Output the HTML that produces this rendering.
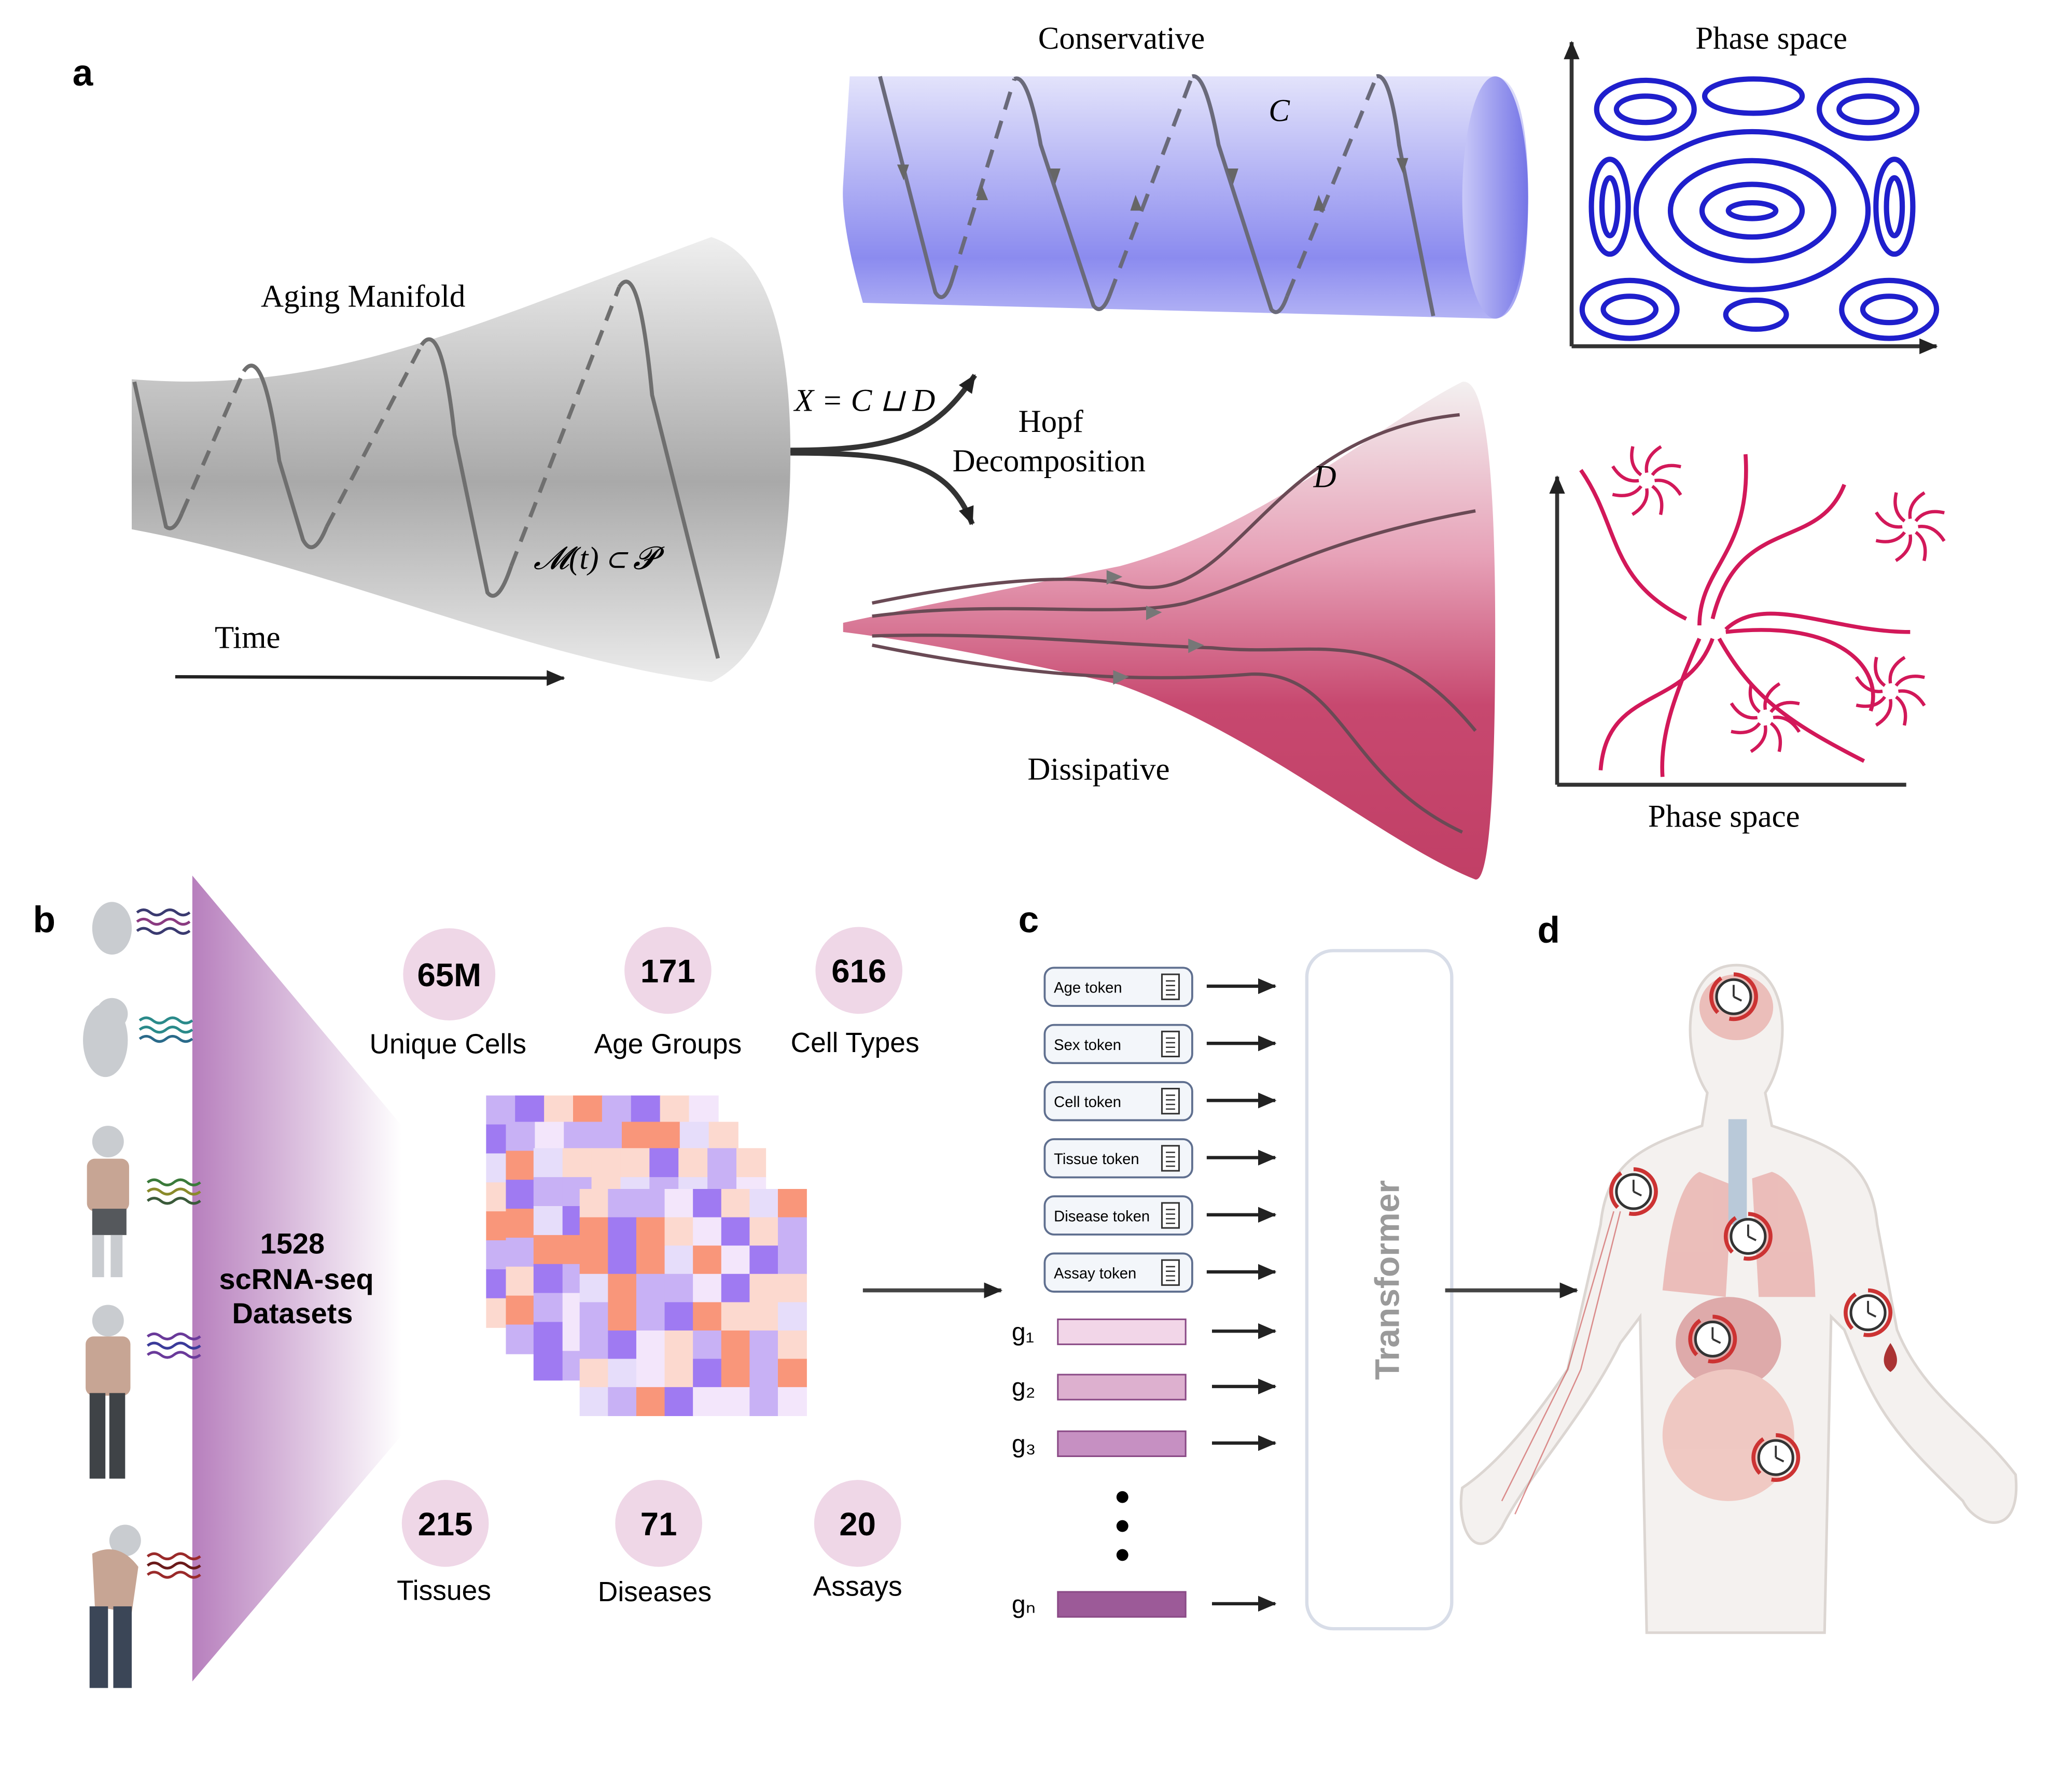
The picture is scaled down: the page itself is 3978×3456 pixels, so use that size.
<!DOCTYPE html>
<html><head><meta charset="utf-8">
<style>
html,body{margin:0;padding:0;background:#fff;}
svg{display:block;}
text{font-family:"Liberation Sans",sans-serif;}
.serif{font-family:"Liberation Serif",serif;}
</style></head>
<body>
<svg id="s" width="3978" height="3456" viewBox="0 0 1566 1361" preserveAspectRatio="none" xmlns="http://www.w3.org/2000/svg">
<defs>
<linearGradient id="grey" x1="0" y1="0" x2="0" y2="1">
<stop offset="0" stop-color="#efefef"/><stop offset="0.55" stop-color="#a9a9a9"/><stop offset="1" stop-color="#ececec"/></linearGradient>
<linearGradient id="blue" x1="0" y1="0" x2="0" y2="1">
<stop offset="0" stop-color="#e3e3fb"/><stop offset="0.75" stop-color="#8b8bef"/><stop offset="1" stop-color="#b3b3f5"/></linearGradient>
<linearGradient id="bluecap" x1="0" y1="0" x2="1" y2="0">
<stop offset="0" stop-color="#c8c8f8"/><stop offset="1" stop-color="#7474e6"/></linearGradient>
<linearGradient id="pink" x1="0" y1="0" x2="0" y2="1">
<stop offset="0" stop-color="#f3f0f0"/><stop offset="0.35" stop-color="#e7a2b8"/><stop offset="0.65" stop-color="#c7486f"/><stop offset="1" stop-color="#c13f66"/></linearGradient>
<linearGradient id="purp" x1="0" y1="0" x2="1" y2="0">
<stop offset="0" stop-color="#b77fbd"/><stop offset="1" stop-color="#ffffff"/></linearGradient>
<marker id="ag" markerWidth="10" markerHeight="10" refX="5" refY="5" orient="auto" markerUnits="userSpaceOnUse"><path d="M0,0 L10,5 L0,10 z" fill="#666"/></marker>
<marker id="ab" markerWidth="14" markerHeight="12" refX="13" refY="6" orient="auto" markerUnits="userSpaceOnUse"><path d="M0,0 L14,6 L0,12 z" fill="#222"/></marker>
</defs>

<text x="55" y="65" font-size="28" font-weight="bold">a</text>

<!-- Aging manifold -->
<path d="M100,288 C250,300 350,250 540,180 Q600,200 600,345 Q600,490 540,518 C400,500 250,430 100,402 Z" fill="url(#grey)"/>
<g fill="none" stroke="#6f6f6f" stroke-width="3">
<path d="M102,290 L126,400 Q132,405 138,390"/>
<path d="M185,282 Q200,260 212,350 L230,410 Q238,425 248,400"/>
<path d="M320,262 Q335,240 345,330 L370,450 Q378,460 388,430"/>
<path d="M470,218 Q485,195 495,300 L545,500"/>
<path d="M138,390 L185,282" stroke-dasharray="12,8" marker-mid="url(#ag)"/>
<path d="M248,400 L320,262" stroke-dasharray="12,8"/>
<path d="M388,430 L470,218" stroke-dasharray="12,8"/>
</g>
<text x="198" y="233" class="serif" font-size="24">Aging Manifold</text>
<text x="405" y="432" class="serif" font-size="24" font-style="italic">𝓜(t) ⊂ 𝓟</text>
<text x="163" y="492" class="serif" font-size="24">Time</text>
<line x1="133" y1="514" x2="428" y2="515" stroke="#222" stroke-width="2.5" marker-end="url(#ab)"/>

<path d="M600,342 C680,342 710,330 740,285" fill="none" stroke="#333" stroke-width="4" marker-end="url(#ab)"/>
<path d="M600,344 C680,344 720,350 738,398" fill="none" stroke="#333" stroke-width="4" marker-end="url(#ab)"/>
<text x="603" y="312" class="serif" font-size="24" font-style="italic">X = C ⊔ D</text>
<text x="773" y="328" class="serif" font-size="24">Hopf</text>
<text x="723" y="358" class="serif" font-size="24">Decomposition</text>

<!-- Conservative cylinder -->
<path d="M645,58 L1135,58 Q1160,60 1160,150 Q1160,240 1135,242 L655,230 Q638,170 640,140 Z" fill="url(#blue)"/>
<ellipse cx="1135" cy="150" rx="25" ry="92" fill="url(#bluecap)"/>
<g fill="none" stroke="#6a6a7a" stroke-width="3">
<path d="M668,58 L710,222 Q716,232 722,215"/>
<path d="M770,60 Q780,55 790,110 L830,232 Q836,240 842,225"/>
<path d="M905,58 Q915,55 925,110 L965,235 Q971,242 977,225"/>
<path d="M1045,58 Q1055,55 1062,110 L1088,240"/>
<path d="M722,215 L770,60" stroke-dasharray="14,9"/>
<path d="M842,225 L905,58" stroke-dasharray="14,9"/>
<path d="M977,225 L1045,58" stroke-dasharray="14,9"/>
</g>
<g fill="#666"><path d="M681,125 l9,0 l-4,12z"/><path d="M796,128 l9,0 l-4,12z"/><path d="M931,128 l9,0 l-4,12z"/><path d="M1060,120 l9,0 l-4,12z"/>
<path d="M741,152 l9,0 l-5,-12z"/><path d="M858,160 l9,0 l-5,-12z"/><path d="M997,160 l9,0 l-5,-12z"/></g>
<text x="788" y="37" class="serif" font-size="24">Conservative</text>
<text x="963" y="92" class="serif" font-size="24" font-style="italic">C</text>

<!-- Phase space top -->
<line x1="1193" y1="263" x2="1193" y2="32" stroke="#333" stroke-width="3" marker-end="url(#ab)"/>
<line x1="1193" y1="263" x2="1470" y2="263" stroke="#333" stroke-width="3" marker-end="url(#ab)"/>
<text x="1287" y="37" class="serif" font-size="24">Phase space</text>
<g fill="none" stroke="#1f1fcc" stroke-width="4">
<ellipse cx="1249" cy="83" rx="37" ry="22"/><ellipse cx="1249" cy="83" rx="22" ry="10"/>
<ellipse cx="1331" cy="73" rx="37" ry="13"/>
<ellipse cx="1418" cy="83" rx="37" ry="22"/><ellipse cx="1418" cy="83" rx="22" ry="10"/>
<ellipse cx="1330" cy="160" rx="88" ry="60"/><ellipse cx="1330" cy="160" rx="62" ry="38"/><ellipse cx="1330" cy="160" rx="38" ry="20"/><ellipse cx="1330" cy="160" rx="18" ry="6"/>
<ellipse cx="1222" cy="157" rx="14" ry="36"/><ellipse cx="1222" cy="157" rx="6" ry="22"/>
<ellipse cx="1438" cy="157" rx="14" ry="36"/><ellipse cx="1438" cy="157" rx="6" ry="22"/>
<ellipse cx="1237" cy="235" rx="36" ry="22"/><ellipse cx="1237" cy="235" rx="20" ry="10"/>
<ellipse cx="1333" cy="239" rx="23" ry="11"/>
<ellipse cx="1434" cy="235" rx="36" ry="22"/><ellipse cx="1434" cy="235" rx="20" ry="10"/>
</g>

<!-- Dissipative horn -->
<path d="M640,473 Q700,460 850,430 C960,400 1050,320 1110,290 Q1135,285 1135,480 Q1135,670 1120,668 C1050,640 960,560 850,520 Q720,490 640,480 Z" fill="url(#pink)"/>
<g fill="none" stroke="#6a4a55" stroke-width="2.5">
<path d="M662,458 C750,440 820,435 860,445 C940,460 960,330 1108,315"/>
<path d="M662,468 C760,455 850,470 900,458 C960,440 1000,410 1120,388"/>
<path d="M662,483 C760,480 850,490 920,492 C1000,500 1050,470 1120,555"/>
<path d="M662,490 C760,510 850,520 950,512 C1020,510 1020,590 1110,632"/>
</g>
<g fill="#777"><path d="M840,433 l12,5 l-12,6z"/><path d="M870,460 l12,5 l-12,6z"/><path d="M902,485 l12,5 l-12,6z"/><path d="M845,509 l12,5 l-12,6z"/></g>
<text x="997" y="370" class="serif" font-size="24" font-style="italic">D</text>
<text x="780" y="592" class="serif" font-size="24">Dissipative</text>

<!-- Phase space bottom -->
<line x1="1182" y1="596" x2="1182" y2="362" stroke="#333" stroke-width="3" marker-end="url(#ab)"/>
<line x1="1182" y1="596" x2="1447" y2="596" stroke="#333" stroke-width="3"/>
<text x="1251" y="628" class="serif" font-size="24">Phase space</text>
<g fill="none" stroke="#d21859" stroke-width="3">
<path d="M1200,357 C1230,400 1220,440 1280,470"/>
<path d="M1325,345 C1330,420 1290,430 1290,475"/>
<path d="M1400,368 C1380,420 1320,390 1300,470"/>
<path d="M1450,480 C1390,480 1340,450 1310,478"/>
<path d="M1300,485 C1280,540 1220,520 1215,585"/>
<path d="M1290,485 C1270,530 1260,560 1262,590"/>
<path d="M1305,485 C1330,530 1360,550 1415,578"/>
<path d="M1310,480 C1400,470 1430,510 1420,540"/>
</g>
<g id="stars" fill="none" stroke="#d21859" stroke-width="2.5"></g>

<!-- panel b -->
<text x="25" y="708" font-size="28" font-weight="bold">b</text>
<path d="M146,665 L305,855 L305,1090 L146,1277 Z" fill="url(#purp)"/>
<text x="222" y="952" font-size="22" font-weight="bold" text-anchor="middle">1528</text>
<text x="225" y="979" font-size="22" font-weight="bold" text-anchor="middle">scRNA-seq</text>
<text x="222" y="1005" font-size="22" font-weight="bold" text-anchor="middle">Datasets</text>
<g fill="#c9ccd0">
<ellipse cx="85" cy="705" rx="15" ry="20"/>
<ellipse cx="80" cy="790" rx="17" ry="28"/><circle cx="85" cy="770" r="12"/>
<circle cx="82" cy="867" r="12"/><rect x="66" y="880" width="32" height="40" rx="6" fill="#c7a594"/><rect x="70" y="918" width="26" height="20" fill="#55585c"/><rect x="70" y="938" width="9" height="32" fill="#c9ccd0"/><rect x="84" y="938" width="9" height="32" fill="#c9ccd0"/>
<circle cx="82" cy="1003" r="12"/><rect x="65" y="1015" width="34" height="45" rx="6" fill="#c7a594"/><rect x="68" y="1058" width="12" height="65" fill="#3f4347"/><rect x="83" y="1058" width="12" height="65" fill="#3f4347"/>
<circle cx="95" cy="1170" r="12"/><path d="M70,1180 Q90,1170 105,1190 L100,1225 L72,1220 Z" fill="#c7a594"/><rect x="68" y="1220" width="14" height="62" fill="#3b4657"/><rect x="86" y="1220" width="14" height="62" fill="#3b4657"/>
</g>
<g fill="none" stroke-width="2">
<path d="M104,693 q5,-4 10,0 t10,0 t10,0 t10,0" stroke="#3a3a70"/><path d="M104,700 q5,-4 10,0 t10,0 t10,0 t10,0" stroke="#8a3a80"/><path d="M104,707 q5,-4 10,0 t10,0 t10,0 t10,0" stroke="#3a3a70"/>
<path d="M106,775 q5,-4 10,0 t10,0 t10,0 t10,0" stroke="#2a8a8a"/><path d="M106,782 q5,-4 10,0 t10,0 t10,0 t10,0" stroke="#2a8a8a"/><path d="M106,789 q5,-4 10,0 t10,0 t10,0 t10,0" stroke="#2a6a8a"/>
<path d="M112,898 q5,-4 10,0 t10,0 t10,0 t10,0" stroke="#3a7a3a"/><path d="M112,905 q5,-4 10,0 t10,0 t10,0 t10,0" stroke="#8a8a2a"/><path d="M112,912 q5,-4 10,0 t10,0 t10,0 t10,0" stroke="#3a5a3a"/>
<path d="M112,1015 q5,-4 10,0 t10,0 t10,0 t10,0" stroke="#6a3a9a"/><path d="M112,1022 q5,-4 10,0 t10,0 t10,0 t10,0" stroke="#3a3a9a"/><path d="M112,1029 q5,-4 10,0 t10,0 t10,0 t10,0" stroke="#6a3a9a"/>
<path d="M112,1182 q5,-4 10,0 t10,0 t10,0 t10,0" stroke="#9a2a2a"/><path d="M112,1189 q5,-4 10,0 t10,0 t10,0 t10,0" stroke="#6a1a1a"/><path d="M112,1196 q5,-4 10,0 t10,0 t10,0 t10,0" stroke="#9a2a2a"/>
</g>
<g fill="#efd7e7">
<circle cx="341" cy="740" r="35"/><circle cx="507" cy="737" r="33"/><circle cx="652" cy="737" r="33"/>
<circle cx="338" cy="1157" r="33"/><circle cx="500" cy="1157" r="33"/><circle cx="651" cy="1157" r="33"/>
</g>
<g font-size="25" font-weight="bold" text-anchor="middle">
<text x="341" y="749">65M</text><text x="507" y="746">171</text><text x="652" y="746">616</text>
<text x="338" y="1166">215</text><text x="500" y="1166">71</text><text x="651" y="1166">20</text>
</g>
<g font-size="21" text-anchor="middle">
<text x="340" y="800">Unique Cells</text><text x="507" y="800">Age Groups</text><text x="649" y="799">Cell Types</text>
<text x="337" y="1215">Tissues</text><text x="497" y="1216">Diseases</text><text x="651" y="1212">Assays</text>
</g>
<g id="heat"></g>
<line x1="655" y1="980" x2="760" y2="980" stroke="#444" stroke-width="3" marker-end="url(#ab)"/>

<!-- panel c -->
<text x="773" y="708" font-size="28" font-weight="bold">c</text>
<g id="tokens"></g>
<rect x="992" y="722" width="110" height="515" rx="20" fill="#fff" stroke="#d8dde8" stroke-width="2.5"/>
<text x="0" y="0" font-size="26" fill="#9a9a9a" font-weight="bold" transform="translate(1062,1048) rotate(-90)">Transformer</text>
<line x1="1097" y1="980" x2="1197" y2="980" stroke="#444" stroke-width="3" marker-end="url(#ab)"/>
<circle cx="852" cy="1137" r="4.5"/><circle cx="852" cy="1159" r="4.5"/><circle cx="852" cy="1181" r="4.5"/>

<!-- panel d -->
<text x="1167" y="716" font-size="28" font-weight="bold">d</text>
<g fill="#f4f1ef" stroke="#dcd6d2" stroke-width="2">
<path d="M1318,733 C1360,733 1360,800 1340,830 L1345,855 C1390,870 1420,880 1425,930 L1440,1010 C1460,1060 1500,1080 1530,1120 C1535,1170 1500,1160 1490,1140 L1470,1120 C1430,1080 1420,1060 1400,1010 L1390,1000 L1385,1240 L1250,1240 L1245,1000 L1230,1020 C1200,1080 1160,1120 1140,1160 C1120,1190 1105,1160 1110,1130 C1140,1110 1170,1070 1190,1040 L1215,930 C1220,880 1250,870 1292,855 L1296,830 C1276,800 1276,733 1318,733 Z"/>
</g>
<g fill="#e9b1ad" opacity="0.8">
<ellipse cx="1318" cy="765" rx="28" ry="25"/>
<path d="M1290,890 Q1270,900 1262,980 L1310,985 L1315,900 Z"/><path d="M1330,895 L1335,985 L1378,985 Q1375,900 1345,890 Z"/>
<ellipse cx="1312" cy="1020" rx="40" ry="35" fill="#d99999"/>
<ellipse cx="1312" cy="1090" rx="50" ry="50" fill="#efbfb8"/>
</g>
<rect x="1312" y="850" width="14" height="80" fill="#b9c9d9"/>
<g fill="none" stroke="#c94a4a" stroke-width="1" opacity="0.6"><path d="M1225,920 L1190,1040 L1140,1140"/><path d="M1230,920 L1200,1040 L1150,1150"/></g>
<g id="clocks"></g>
<path d="M1435,1020 q10,15 0,22 q-10,-7 0,-22z" fill="#a33"/>

<script>
var s="http://www.w3.org/2000/svg";
function el(p,t,a){var e=document.createElementNS(s,t);for(var k in a)e.setAttribute(k,a[k]);p.appendChild(e);return e;}
var st=document.getElementById("stars");
[[1250,365],[1450,400],[1340,545],[1435,525]].forEach(function(c){
 for(var i=0;i<8;i++){var a=i*Math.PI/4,x1=c[0]+6*Math.cos(a),y1=c[1]+6*Math.sin(a),x2=c[0]+28*Math.cos(a+0.4),y2=c[1]+28*Math.sin(a+0.4);
 var mx=c[0]+18*Math.cos(a-0.1),my=c[1]+18*Math.sin(a-0.1);
 el(st,"path",{d:"M"+x1+","+y1+" Q"+mx+","+my+" "+x2+","+y2});}
});
var h=document.getElementById("heat");
var pal=["#fcd9cf","#f9967a","#c8b1f5","#9f7af2","#e6ddfa","#f3e6fb"];
var seed=7;function r(){seed=(seed*9301+49297)%233280;return seed/233280;}
[[369,832,22],[384,852,22],[405,872,22],[440,903,21.5]].forEach(function(g,gi){
 for(var i=0;i<8;i++)for(var j=0;j<8;j++){
  el(h,"rect",{x:g[0]+j*g[2],y:g[1]+i*g[2],width:g[2]+0.5,height:g[2]+0.5,fill:pal[Math.floor(r()*pal.length)]});}
});
var t=document.getElementById("tokens");
["Age token","Sex token","Cell token","Tissue token","Disease token","Assay token"].forEach(function(n,i){
 var y=735+i*43.4;
 el(t,"rect",{x:793,y:y,width:112,height:29,rx:7,fill:"#f3f6fa",stroke:"#5f6f8f","stroke-width":1.5});
 var tx=el(t,"text",{x:800,y:y+19,"font-size":11.5});tx.textContent=n;
 el(t,"rect",{x:882,y:y+5,width:13,height:19,fill:"#fff",stroke:"#333","stroke-width":1.2});
 for(var k=0;k<4;k++)el(t,"line",{x1:885,x2:892,y1:y+10+k*3.5,y2:y+10+k*3.5,stroke:"#333","stroke-width":1});
 el(t,"line",{x1:916,y1:y+14,x2:968,y2:y+14,stroke:"#222","stroke-width":2.5,"marker-end":"url(#ab)"});
});
[["g₁",1011,"#f2d6e8"],["g₂",1053,"#ddb0cf"],["g₃",1096,"#c690c2"],["gₙ",1218,"#9c5a98"]].forEach(function(g){
 var tx=el(t,"text",{x:768,y:g[1]+7,"font-size":19});tx.textContent=g[0];
 el(t,"rect",{x:803,y:g[1]-9,width:97,height:19,fill:g[2],stroke:"#8a4a86","stroke-width":1.2});
 el(t,"line",{x1:920,y1:g[1],x2:968,y2:g[1],stroke:"#222","stroke-width":2.5,"marker-end":"url(#ab)"});
});
var c=document.getElementById("clocks");
[[1316,757],[1240,905],[1327,939],[1300,1017],[1418,997],[1348,1107]].forEach(function(p){
 el(c,"circle",{cx:p[0],cy:p[1],r:17,fill:"none",stroke:"#c33","stroke-width":3,"stroke-dasharray":"30,10"});
 el(c,"circle",{cx:p[0],cy:p[1],r:13,fill:"#fff",stroke:"#333","stroke-width":2});
 el(c,"line",{x1:p[0],y1:p[1],x2:p[0],y2:p[1]-9,stroke:"#333","stroke-width":1.5});
 el(c,"line",{x1:p[0],y1:p[1],x2:p[0]+6,y2:p[1]+3,stroke:"#333","stroke-width":1.5});
});
</script>
</svg>
</body></html>
